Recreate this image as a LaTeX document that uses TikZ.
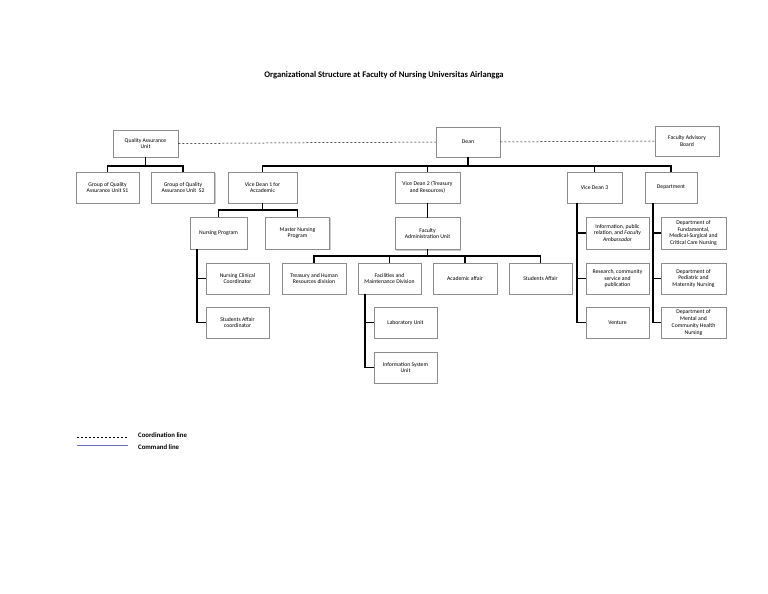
\documentclass[tikz,border=0pt]{standalone}
\usepackage{fontspec}
\setmainfont{Carlito}
\usetikzlibrary{shadows}
\begin{document}
\begin{tikzpicture}[x=1pt,y=-1pt,
  bx/.style={draw=black!45,fill=white,line width=0.5pt,minimum width=#1,minimum height=31pt,align=center,inner sep=1pt,font=\fontsize{5.7}{6.8}\selectfont,drop shadow={shadow xshift=1pt,shadow yshift=-1.2pt,opacity=0.4}},
  bx/.default=63pt,
  cmd/.style={line width=1.4pt},
  crd/.style={dashed,dash pattern=on 2pt off 2pt,line width=0.5pt}]
\useasboundingbox (0,0) rectangle (768,594);
\node[font=\bfseries\fontsize{8.6}{10}\selectfont] (title) at (384,75) {Organizational Structure at Faculty of Nursing Universitas Airlangga};
% top
\node[bx=65pt,minimum height=27pt] (qau) at (145.5,143.5) {Quality Assurance\\Unit};
\node[bx=64pt,minimum height=30pt] (dean) at (468,142) {Dean};
\node[bx=64pt,minimum height=30pt] (fab) at (687,141) {Faculty Advisory\\Board};
% level 2
\node[bx] (g1) at (107.5,187.5) {Group of Quality\\Assurance Unit S1};
\node[bx] (g2) at (183,187.5) {Group of Quality\\Assurance Unit~ S2};
\node[bx=69pt] (vd1) at (262.5,187.5) {Vice Dean 1 for\\Accademic};
\node[bx=65pt] (vd2) at (427.5,187.5) {Vice Dean 2 (Treasury\\and Resources)};
\node[bx=55pt] (vd3) at (594.5,187.5) {Vice Dean 3};
\node[bx=52pt] (dep) at (671,187.5) {Department};
% level 3
\node[bx=57pt,minimum height=32pt] (np) at (218.5,233) {Nursing Program};
\node[bx=64pt,minimum height=32pt] (mnp) at (297.5,233) {Master Nursing\\Program};
\node[bx=65pt,minimum height=32pt] (fau) at (427.5,233.5) {Faculty\\Administration Unit};
\node[bx=63pt,minimum height=32pt] (ipr) at (617.5,233) {Information, public\\relation, and \textit{Faculty}\\\textit{Ambassador}};
\node[bx=65pt,minimum height=32pt] (df) at (693.5,233) {Department of\\Fundamental,\\Medical-Surgical and\\Critical Care Nursing};
% level 4
\node[bx] (ncc) at (237.5,278.5) {Nursing Clinical\\Coordinator};
\node[bx=64pt] (thr) at (314,278.5) {Treasury and Human\\Resources division};
\node[bx] (fmd) at (389.5,278.5) {Facilities and\\Maintenance Division};
\node[bx=64pt] (aa) at (465,278.5) {Academic affair};
\node[bx] (sa) at (540.5,278.5) {Students Affair};
\node[bx] (rcs) at (617.5,278.5) {Research, community\\service and\\publication};
\node[bx=65pt] (dp) at (693.5,278.5) {Department of\\Pediatric and\\Maternity Nursing};
% level 5
\node[bx] (sac) at (237.5,322.5) {Students Affair\\coordinator};
\node[bx] (lab) at (405.5,322.5) {Laboratory Unit};
\node[bx] (ven) at (617.5,322.5) {Venture};
\node[bx=65pt] (dm) at (693.5,322.5) {Department of\\Mental and\\Community Health\\Nursing};
\node[bx] (isu) at (405.5,367.5) {Information System\\Unit};
% coordination lines
\draw[crd] (qau.east) -- (dean.west);
\draw[crd] (dean.east) -- (fab.west);
% command lines
\begin{scope}[cmd,line cap=rect]
\draw (dean.south) -- (dean.south |- 0,166);
\draw (vd1.north) -- (vd1.north |- 0,166) -- (dep.north |- 0,166) -- (dep.north);
\draw (vd2.north) -- (vd2.north |- 0,166);
\draw (vd3.north) -- (vd3.north |- 0,166);
\draw (qau.south) -- (qau.south |- 0,166);
\draw (g1.north) -- (g1.north |- 0,166) -- (g2.north |- 0,166) -- (g2.north);
\draw (vd1.south) -- (vd1.south |- 0,210);
\draw (np.north) -- (np.north |- 0,210) -- (mnp.north |- 0,210) -- (mnp.north);
\draw (vd2.south) -- (fau.north);
\draw (fau.south) -- (fau.south |- 0,256);
\draw (thr.north) -- (thr.north |- 0,256) -- (sa.north |- 0,256) -- (sa.north);
\draw (fmd.north) -- (fmd.north |- 0,256);
\draw (aa.north) -- (aa.north |- 0,256);
\coordinate (npx) at (197,0);
\draw (np.south -| npx) |- (sac.west);
\draw (npx |- ncc.west) -- (ncc.west);
\coordinate (fmx) at (365,0);
\draw (fmd.south -| fmx) |- (isu.west);
\draw (fmx |- lab.west) -- (lab.west);
\coordinate (v3x) at (577,0);
\draw (vd3.south -| v3x) |- (ven.west);
\draw (v3x |- ipr.west) -- (ipr.west);
\draw (v3x |- rcs.west) -- (rcs.west);
\coordinate (dpx) at (653,0);
\draw (dep.south -| dpx) |- (dm.west);
\draw (dpx |- df.west) -- (df.west);
\draw (dpx |- dp.west) -- (dp.west);
\end{scope}
% legend
\coordinate (l1a) at (77,437); \coordinate (l1b) at (128,437);
\coordinate (l2a) at (77,445); \coordinate (l2b) at (128,445);
\draw[dash pattern=on 1.5pt off 2.5pt,line width=0.5pt] (l1a) -- (l1b);
\draw[blue!45!gray!80,line width=0.6pt] (l2a) -- (l2b);
\node[anchor=west,font=\bfseries\fontsize{6.8}{8}\selectfont,inner sep=0pt] (lt1) at (138,435.5) {Coordination line};
\node[anchor=west,font=\bfseries\fontsize{6.8}{8}\selectfont,inner sep=0pt] (lt2) at (138,447) {Command line};
\end{tikzpicture}
\end{document}
